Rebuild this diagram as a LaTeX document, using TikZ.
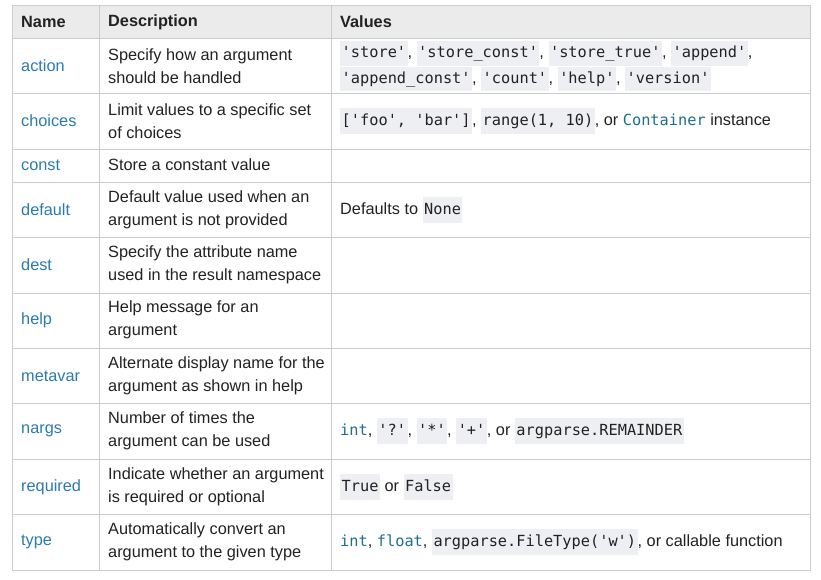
\documentclass[tikz,border=0pt]{standalone}
\usepackage{fontspec}
\setmainfont{Liberation Sans}
\setmonofont{DejaVu Sans Mono}
\usepackage{tikz}

\definecolor{namecol}{HTML}{2B7BB0}
\definecolor{linkcol}{HTML}{1E6F8E}
\definecolor{codebg}{HTML}{EDEFF2}
\definecolor{headbg}{HTML}{EBEBEB}
\definecolor{rulecol}{HTML}{CCCCCC}
\definecolor{textcol}{HTML}{222222}

\newcommand{\cd}[1]{{\setlength{\fboxsep}{1.5pt}\colorbox{codebg}{\strut\ttfamily\fontsize{15.3}{18}\selectfont #1}}}
\newcommand{\lk}[1]{{\ttfamily\fontsize{15.3}{18}\selectfont\color{linkcol}#1}}

\begin{document}
\begin{tikzpicture}[x=1pt, y=-1pt,
  cell/.style = {anchor=west, inner sep=0pt, align=left, text=textcol,
                 font=\fontsize{16.3}{22.5}\selectfont},
  namecell/.style = {cell, text=namecol},
  desccell/.style = {cell},
  headcell/.style = {cell, font=\fontsize{16.3}{19}\selectfont\bfseries}]

\useasboundingbox (0, 0) rectangle (821, 579);
\fill[white] (0, 0) rectangle (821, 579);
\fill[headbg] (12, 5) rectangle (810, 38);

% rows
\foreach \y in {38, 93, 149, 182, 237, 293, 348, 403, 459, 514}
  \draw[rulecol] (12, \y) -- (810, \y);
\draw[rulecol] (12, 5) rectangle (810, 570);
\draw[rulecol] (99, 5) -- (99, 570);
\draw[rulecol] (331, 5) -- (331, 570);

\node[headcell] (hname) at (21, 22) {Name};
\node[headcell] (hdesc) at (108, 22) {Description};
\node[headcell] (hval) at (340, 22) {Values};

\node[namecell] (naction) at (21, 66) {action};
\node[desccell] (daction) at (108, 66) {Specify how an argument\\should be handled};
\node[cell, font=\fontsize{16.3}{21.5}\selectfont] (vaction) at (340, 66)
  {\cd{'store'}, \cd{'store\_const'}, \cd{'store\_true'}, \cd{'append'},\\
   \cd{'append\_const'}, \cd{'count'}, \cd{'help'}, \cd{'version'}};

\node[namecell] (nchoices) at (21, 121) {choices};
\node[desccell] (dchoices) at (108, 121) {Limit values to a specific set\\of choices};
\node[cell] (vchoices) at (340, 121)
  {\cd{['foo', 'bar']}, \cd{range(1, 10)}, or \lk{Container} instance};

\node[namecell] (nconst) at (21, 165) {const};
\node[desccell] (dconst) at (108, 165) {Store a constant value};

\node[namecell] (ndefault) at (21, 210) {default};
\node[desccell] (ddefault) at (108, 210) {Default value used when an\\argument is not provided};
\node[cell] (vdefault) at (340, 210) {Defaults to \cd{None}};

\node[namecell] (ndest) at (21, 265) {dest};
\node[desccell] (ddest) at (108, 265) {Specify the attribute name\\used in the result namespace};

\node[namecell] (nhelp) at (21, 320) {help};
\node[desccell] (dhelp) at (108, 320) {Help message for an\\argument};

\node[namecell] (nmetavar) at (21, 376) {metavar};
\node[desccell] (dmetavar) at (108, 376) {Alternate display name for the\\argument as shown in help};

\node[namecell] (nnargs) at (21, 431) {nargs};
\node[desccell] (dnargs) at (108, 431) {Number of times the\\argument can be used};
\node[cell] (vnargs) at (340, 431)
  {\lk{int}, \cd{'?'}, \cd{'*'}, \cd{'+'}, or \cd{argparse.REMAINDER}};

\node[namecell] (nrequired) at (21, 487) {required};
\node[desccell] (drequired) at (108, 487) {Indicate whether an argument\\is required or optional};
\node[cell] (vrequired) at (340, 487) {\cd{True} or \cd{False}};

\node[namecell] (ntype) at (21, 542) {type};
\node[desccell] (dtype) at (108, 542) {Automatically convert an\\argument to the given type};
\node[cell] (vtype) at (340, 542)
  {\lk{int}, \lk{float}, \cd{argparse.FileType('w')}, or callable function};
\end{tikzpicture}
\end{document}
